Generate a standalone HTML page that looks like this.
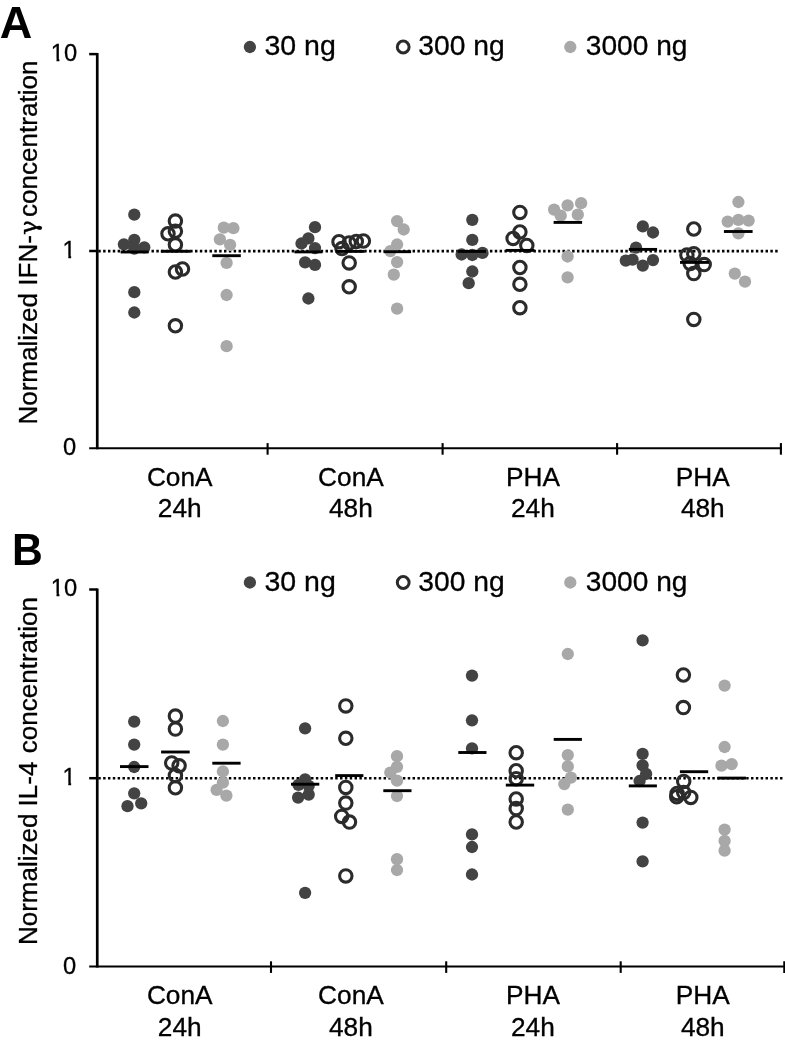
<!DOCTYPE html>
<html lang="en">
<head>
<meta charset="utf-8">
<title>Figure</title>
<style>
html,body{margin:0;padding:0;background:#fff;}
body{width:785px;height:1042px;overflow:hidden;}
svg{display:block;}
svg text{font-family:"Liberation Sans",sans-serif;fill:#000;stroke:#000;stroke-width:0.3px;}
</style>
</head>
<body>
<svg width="785" height="1042" viewBox="0 0 785 1042">
<defs>
<clipPath id="nofoot" clipPathUnits="userSpaceOnUse">
<rect x="-4" y="-30" width="40" height="27.5"/>
<rect x="5.7" y="-3" width="2.8" height="5"/>
<rect x="13.4" y="-30" width="20" height="40"/>
</clipPath>
</defs>
<rect width="785" height="1042" fill="#fff"/>
<g id="panelA">
<line x1="98.3" y1="251.1" x2="779.4" y2="251.1" stroke="#000" stroke-width="2.6" stroke-dasharray="2.45 2.385"/>
<circle cx="223.8" cy="227.7" r="6.15" fill="#a8a8a8"/>
<circle cx="233.4" cy="228.2" r="6.15" fill="#a8a8a8"/>
<circle cx="219.9" cy="239.4" r="6.15" fill="#a8a8a8"/>
<circle cx="230.1" cy="244.8" r="6.15" fill="#a8a8a8"/>
<circle cx="226.6" cy="262.9" r="6.15" fill="#a8a8a8"/>
<circle cx="226.6" cy="295.0" r="6.15" fill="#a8a8a8"/>
<circle cx="226.6" cy="346.2" r="6.15" fill="#a8a8a8"/>
<circle cx="397.1" cy="221.1" r="6.15" fill="#a8a8a8"/>
<circle cx="403.7" cy="229.5" r="6.15" fill="#a8a8a8"/>
<circle cx="397.1" cy="244.5" r="6.15" fill="#a8a8a8"/>
<circle cx="390.4" cy="251.1" r="6.15" fill="#a8a8a8"/>
<circle cx="397.1" cy="262.1" r="6.15" fill="#a8a8a8"/>
<circle cx="393.8" cy="274.6" r="6.15" fill="#a8a8a8"/>
<circle cx="397.1" cy="308.7" r="6.15" fill="#a8a8a8"/>
<circle cx="554.1" cy="209.6" r="6.15" fill="#a8a8a8"/>
<circle cx="567.6" cy="205.3" r="6.15" fill="#a8a8a8"/>
<circle cx="581.1" cy="203.2" r="6.15" fill="#a8a8a8"/>
<circle cx="560.7" cy="215.7" r="6.15" fill="#a8a8a8"/>
<circle cx="577.8" cy="214.7" r="6.15" fill="#a8a8a8"/>
<circle cx="567.6" cy="256.5" r="6.15" fill="#a8a8a8"/>
<circle cx="567.6" cy="277.4" r="6.15" fill="#a8a8a8"/>
<circle cx="738.4" cy="202.0" r="6.15" fill="#a8a8a8"/>
<circle cx="727.7" cy="221.6" r="6.15" fill="#a8a8a8"/>
<circle cx="738.4" cy="219.8" r="6.15" fill="#a8a8a8"/>
<circle cx="748.6" cy="220.6" r="6.15" fill="#a8a8a8"/>
<circle cx="738.4" cy="233.3" r="6.15" fill="#a8a8a8"/>
<circle cx="734.8" cy="273.6" r="6.15" fill="#a8a8a8"/>
<circle cx="745.0" cy="281.7" r="6.15" fill="#a8a8a8"/>
<circle cx="134.3" cy="214.7" r="6.15" fill="#434343"/>
<circle cx="134.3" cy="239.8" r="6.15" fill="#434343"/>
<circle cx="123.9" cy="244.3" r="6.15" fill="#434343"/>
<circle cx="144.3" cy="247.3" r="6.15" fill="#434343"/>
<circle cx="134.3" cy="248.6" r="6.15" fill="#434343"/>
<circle cx="134.3" cy="292.2" r="6.15" fill="#434343"/>
<circle cx="134.3" cy="312.5" r="6.15" fill="#434343"/>
<circle cx="315.0" cy="227.2" r="6.15" fill="#434343"/>
<circle cx="308.4" cy="238.4" r="6.15" fill="#434343"/>
<circle cx="301.5" cy="243.5" r="6.15" fill="#434343"/>
<circle cx="315.0" cy="248.1" r="6.15" fill="#434343"/>
<circle cx="305.1" cy="262.4" r="6.15" fill="#434343"/>
<circle cx="315.0" cy="264.9" r="6.15" fill="#434343"/>
<circle cx="308.4" cy="298.5" r="6.15" fill="#434343"/>
<circle cx="472.3" cy="219.8" r="6.15" fill="#434343"/>
<circle cx="472.3" cy="239.9" r="6.15" fill="#434343"/>
<circle cx="461.6" cy="254.5" r="6.15" fill="#434343"/>
<circle cx="472.3" cy="255.0" r="6.15" fill="#434343"/>
<circle cx="482.5" cy="252.9" r="6.15" fill="#434343"/>
<circle cx="472.3" cy="271.5" r="6.15" fill="#434343"/>
<circle cx="468.7" cy="283.2" r="6.15" fill="#434343"/>
<circle cx="642.8" cy="226.4" r="6.15" fill="#434343"/>
<circle cx="653.0" cy="232.5" r="6.15" fill="#434343"/>
<circle cx="636.0" cy="247.6" r="6.15" fill="#434343"/>
<circle cx="625.8" cy="260.6" r="6.15" fill="#434343"/>
<circle cx="632.6" cy="259.6" r="6.15" fill="#434343"/>
<circle cx="642.8" cy="265.7" r="6.15" fill="#434343"/>
<circle cx="653.0" cy="260.1" r="6.15" fill="#434343"/>
<circle cx="175.4" cy="221.1" r="6.2" fill="none" stroke="#2b2b2b" stroke-width="3.1"/>
<circle cx="175.4" cy="231.3" r="6.2" fill="none" stroke="#2b2b2b" stroke-width="3.1"/>
<circle cx="168.0" cy="233.8" r="6.2" fill="none" stroke="#2b2b2b" stroke-width="3.1"/>
<circle cx="175.4" cy="244.8" r="6.2" fill="none" stroke="#2b2b2b" stroke-width="3.1"/>
<circle cx="182.5" cy="269.0" r="6.2" fill="none" stroke="#2b2b2b" stroke-width="3.1"/>
<circle cx="175.4" cy="272.0" r="6.2" fill="none" stroke="#2b2b2b" stroke-width="3.1"/>
<circle cx="175.4" cy="325.8" r="6.2" fill="none" stroke="#2b2b2b" stroke-width="3.1"/>
<circle cx="339.0" cy="241.7" r="6.2" fill="none" stroke="#2b2b2b" stroke-width="3.1"/>
<circle cx="342.0" cy="248.6" r="6.2" fill="none" stroke="#2b2b2b" stroke-width="3.1"/>
<circle cx="349.2" cy="243.0" r="6.2" fill="none" stroke="#2b2b2b" stroke-width="3.1"/>
<circle cx="356.3" cy="241.5" r="6.2" fill="none" stroke="#2b2b2b" stroke-width="3.1"/>
<circle cx="363.4" cy="241.0" r="6.2" fill="none" stroke="#2b2b2b" stroke-width="3.1"/>
<circle cx="349.2" cy="262.9" r="6.2" fill="none" stroke="#2b2b2b" stroke-width="3.1"/>
<circle cx="349.2" cy="286.8" r="6.2" fill="none" stroke="#2b2b2b" stroke-width="3.1"/>
<circle cx="519.9" cy="212.4" r="6.2" fill="none" stroke="#2b2b2b" stroke-width="3.1"/>
<circle cx="519.9" cy="232.0" r="6.2" fill="none" stroke="#2b2b2b" stroke-width="3.1"/>
<circle cx="513.1" cy="238.4" r="6.2" fill="none" stroke="#2b2b2b" stroke-width="3.1"/>
<circle cx="526.8" cy="245.5" r="6.2" fill="none" stroke="#2b2b2b" stroke-width="3.1"/>
<circle cx="519.9" cy="267.5" r="6.2" fill="none" stroke="#2b2b2b" stroke-width="3.1"/>
<circle cx="519.9" cy="284.3" r="6.2" fill="none" stroke="#2b2b2b" stroke-width="3.1"/>
<circle cx="519.9" cy="307.7" r="6.2" fill="none" stroke="#2b2b2b" stroke-width="3.1"/>
<circle cx="693.8" cy="229.0" r="6.2" fill="none" stroke="#2b2b2b" stroke-width="3.1"/>
<circle cx="686.9" cy="255.0" r="6.2" fill="none" stroke="#2b2b2b" stroke-width="3.1"/>
<circle cx="693.8" cy="253.7" r="6.2" fill="none" stroke="#2b2b2b" stroke-width="3.1"/>
<circle cx="690.2" cy="263.4" r="6.2" fill="none" stroke="#2b2b2b" stroke-width="3.1"/>
<circle cx="704.2" cy="264.6" r="6.2" fill="none" stroke="#2b2b2b" stroke-width="3.1"/>
<circle cx="693.8" cy="273.6" r="6.2" fill="none" stroke="#2b2b2b" stroke-width="3.1"/>
<circle cx="693.8" cy="319.4" r="6.2" fill="none" stroke="#2b2b2b" stroke-width="3.1"/>
<line x1="120.6" y1="252.0" x2="148.6" y2="252.0" stroke="#000" stroke-width="2.9"/>
<line x1="160.8" y1="251.3" x2="190.6" y2="251.3" stroke="#000" stroke-width="2.9"/>
<line x1="212.3" y1="255.7" x2="240.8" y2="255.7" stroke="#000" stroke-width="2.9"/>
<line x1="294.4" y1="251.9" x2="322.4" y2="251.9" stroke="#000" stroke-width="2.9"/>
<line x1="335.7" y1="251.4" x2="364.5" y2="251.4" stroke="#000" stroke-width="2.9"/>
<line x1="383.6" y1="251.7" x2="411.1" y2="251.7" stroke="#000" stroke-width="2.9"/>
<line x1="457.5" y1="251.4" x2="486.0" y2="251.4" stroke="#000" stroke-width="2.9"/>
<line x1="505.7" y1="250.4" x2="534.5" y2="250.4" stroke="#000" stroke-width="2.9"/>
<line x1="553.6" y1="222.4" x2="582.1" y2="222.4" stroke="#000" stroke-width="2.9"/>
<line x1="628.8" y1="249.4" x2="657.1" y2="249.4" stroke="#000" stroke-width="2.9"/>
<line x1="680.0" y1="262.4" x2="709.0" y2="262.4" stroke="#000" stroke-width="2.9"/>
<line x1="723.9" y1="231.5" x2="752.6" y2="231.5" stroke="#000" stroke-width="2.9"/>
<line x1="97.25" y1="53.0" x2="97.25" y2="449.3" stroke="#000" stroke-width="2.7"/>
<line x1="89.2" y1="448.3" x2="781.9" y2="448.3" stroke="#000" stroke-width="2.1"/>
<line x1="89.2" y1="54.1" x2="97.25" y2="54.1" stroke="#000" stroke-width="2.5"/>
<line x1="89.2" y1="251.0" x2="97.25" y2="251.0" stroke="#000" stroke-width="2.5"/>
<line x1="267.6" y1="443.1" x2="267.6" y2="454.7" stroke="#000" stroke-width="2.1"/>
<line x1="442.6" y1="443.1" x2="442.6" y2="454.7" stroke="#000" stroke-width="2.1"/>
<line x1="617.1" y1="443.1" x2="617.1" y2="454.7" stroke="#000" stroke-width="2.1"/>
<line x1="780.9" y1="443.1" x2="780.9" y2="454.7" stroke="#000" stroke-width="2.1"/>
<text font-size="23.7" clip-path="url(#nofoot)" transform="translate(50.84 61.20)">10</text>
<text font-size="23.7" clip-path="url(#nofoot)" transform="translate(62.62 258.10)">1</text>
<text font-size="23.7" transform="translate(63.02 455.40)">0</text>
<text font-size="26.2" transform="translate(36.9 0) rotate(-90) scale(0.9946 1)"><tspan x="-426.91" text-anchor="start">Normalized IFN-</tspan><tspan x="-236.18" text-anchor="start" style="font-family:&quot;DejaVu Serif&quot;,serif;font-size:25px">γ</tspan><tspan x="-60.93" text-anchor="end"> concentration</tspan></text>
<circle cx="249.9" cy="47.0" r="6.15" fill="#434343"/>
<text x="0" y="0" font-size="27.3" transform="translate(264.45 55.4) scale(1.045 1)">30 ng</text>
<circle cx="403.2" cy="47.0" r="5.9" fill="none" stroke="#2b2b2b" stroke-width="3.0"/>
<text x="0" y="0" font-size="27.3" transform="translate(418.3 55.4) scale(1.035 1)">300 ng</text>
<circle cx="570.3" cy="47.0" r="6.15" fill="#a8a8a8"/>
<text x="0" y="0" font-size="27.3" transform="translate(585.8 55.4) scale(1.03 1)">3000 ng</text>
<text font-size="25" text-anchor="middle" transform="translate(179.7 485.6) scale(1.05 1)">ConA</text>
<text font-size="25" text-anchor="middle" transform="translate(179.7 517.2) scale(1.05 1)">24h</text>
<text font-size="25" text-anchor="middle" transform="translate(350.9 485.6) scale(1.05 1)">ConA</text>
<text font-size="25" text-anchor="middle" transform="translate(350.9 517.2) scale(1.05 1)">48h</text>
<text font-size="25" text-anchor="middle" transform="translate(532.9 485.6) scale(1.05 1)">PHA</text>
<text font-size="25" text-anchor="middle" transform="translate(532.9 517.2) scale(1.05 1)">24h</text>
<text font-size="25" text-anchor="middle" transform="translate(702.8 485.6) scale(1.05 1)">PHA</text>
<text font-size="25" text-anchor="middle" transform="translate(702.8 517.2) scale(1.05 1)">48h</text>
<text font-size="44.6" font-weight="bold" style="stroke:none" transform="translate(-0.2 37.7) scale(1.01 1)">A</text>
</g>
<g id="panelB">
<line x1="98.3" y1="778.3000000000001" x2="782.5" y2="778.3000000000001" stroke="#000" stroke-width="2.6" stroke-dasharray="2.45 2.385"/>
<circle cx="222.9" cy="721.0" r="6.15" fill="#a8a8a8"/>
<circle cx="222.9" cy="744.6" r="6.15" fill="#a8a8a8"/>
<circle cx="222.9" cy="771.5" r="6.15" fill="#a8a8a8"/>
<circle cx="222.9" cy="782.7" r="6.15" fill="#a8a8a8"/>
<circle cx="216.6" cy="789.9" r="6.15" fill="#a8a8a8"/>
<circle cx="226.4" cy="795.6" r="6.15" fill="#a8a8a8"/>
<circle cx="397.0" cy="756.2" r="6.15" fill="#a8a8a8"/>
<circle cx="397.0" cy="766.8" r="6.15" fill="#a8a8a8"/>
<circle cx="390.3" cy="772.6" r="6.15" fill="#a8a8a8"/>
<circle cx="397.0" cy="780.7" r="6.15" fill="#a8a8a8"/>
<circle cx="397.0" cy="796.0" r="6.15" fill="#a8a8a8"/>
<circle cx="397.0" cy="859.2" r="6.15" fill="#a8a8a8"/>
<circle cx="397.0" cy="870.0" r="6.15" fill="#a8a8a8"/>
<circle cx="567.8" cy="654.0" r="6.15" fill="#a8a8a8"/>
<circle cx="567.8" cy="755.1" r="6.15" fill="#a8a8a8"/>
<circle cx="567.8" cy="766.4" r="6.15" fill="#a8a8a8"/>
<circle cx="570.9" cy="777.6" r="6.15" fill="#a8a8a8"/>
<circle cx="564.3" cy="784.1" r="6.15" fill="#a8a8a8"/>
<circle cx="567.8" cy="809.6" r="6.15" fill="#a8a8a8"/>
<circle cx="724.6" cy="685.6" r="6.15" fill="#a8a8a8"/>
<circle cx="724.6" cy="747.0" r="6.15" fill="#a8a8a8"/>
<circle cx="721.5" cy="765.7" r="6.15" fill="#a8a8a8"/>
<circle cx="731.7" cy="764.1" r="6.15" fill="#a8a8a8"/>
<circle cx="724.6" cy="829.7" r="6.15" fill="#a8a8a8"/>
<circle cx="724.6" cy="840.9" r="6.15" fill="#a8a8a8"/>
<circle cx="724.6" cy="850.7" r="6.15" fill="#a8a8a8"/>
<circle cx="134.2" cy="721.6" r="6.15" fill="#434343"/>
<circle cx="134.2" cy="744.6" r="6.15" fill="#434343"/>
<circle cx="134.2" cy="767.0" r="6.15" fill="#434343"/>
<circle cx="134.2" cy="793.3" r="6.15" fill="#434343"/>
<circle cx="141.2" cy="803.3" r="6.15" fill="#434343"/>
<circle cx="127.5" cy="806.2" r="6.15" fill="#434343"/>
<circle cx="305.1" cy="728.3" r="6.15" fill="#434343"/>
<circle cx="305.1" cy="779.3" r="6.15" fill="#434343"/>
<circle cx="298.5" cy="784.8" r="6.15" fill="#434343"/>
<circle cx="308.7" cy="785.8" r="6.15" fill="#434343"/>
<circle cx="308.7" cy="794.6" r="6.15" fill="#434343"/>
<circle cx="298.1" cy="797.6" r="6.15" fill="#434343"/>
<circle cx="305.1" cy="892.8" r="6.15" fill="#434343"/>
<circle cx="472.0" cy="675.6" r="6.15" fill="#434343"/>
<circle cx="472.0" cy="720.3" r="6.15" fill="#434343"/>
<circle cx="472.0" cy="748.4" r="6.15" fill="#434343"/>
<circle cx="472.0" cy="834.4" r="6.15" fill="#434343"/>
<circle cx="472.0" cy="847.0" r="6.15" fill="#434343"/>
<circle cx="472.0" cy="874.5" r="6.15" fill="#434343"/>
<circle cx="642.6" cy="640.4" r="6.15" fill="#434343"/>
<circle cx="642.6" cy="753.9" r="6.15" fill="#434343"/>
<circle cx="642.6" cy="765.3" r="6.15" fill="#434343"/>
<circle cx="646.1" cy="773.9" r="6.15" fill="#434343"/>
<circle cx="639.6" cy="781.0" r="6.15" fill="#434343"/>
<circle cx="642.6" cy="822.6" r="6.15" fill="#434343"/>
<circle cx="642.6" cy="861.3" r="6.15" fill="#434343"/>
<circle cx="175.4" cy="716.1" r="6.2" fill="none" stroke="#2b2b2b" stroke-width="3.1"/>
<circle cx="175.4" cy="729.1" r="6.2" fill="none" stroke="#2b2b2b" stroke-width="3.1"/>
<circle cx="171.7" cy="763.0" r="6.2" fill="none" stroke="#2b2b2b" stroke-width="3.1"/>
<circle cx="179.1" cy="765.8" r="6.2" fill="none" stroke="#2b2b2b" stroke-width="3.1"/>
<circle cx="175.4" cy="775.6" r="6.2" fill="none" stroke="#2b2b2b" stroke-width="3.1"/>
<circle cx="175.4" cy="787.8" r="6.2" fill="none" stroke="#2b2b2b" stroke-width="3.1"/>
<circle cx="345.8" cy="705.9" r="6.2" fill="none" stroke="#2b2b2b" stroke-width="3.1"/>
<circle cx="345.8" cy="738.3" r="6.2" fill="none" stroke="#2b2b2b" stroke-width="3.1"/>
<circle cx="345.8" cy="787.4" r="6.2" fill="none" stroke="#2b2b2b" stroke-width="3.1"/>
<circle cx="345.8" cy="803.1" r="6.2" fill="none" stroke="#2b2b2b" stroke-width="3.1"/>
<circle cx="341.7" cy="816.4" r="6.2" fill="none" stroke="#2b2b2b" stroke-width="3.1"/>
<circle cx="349.5" cy="822.1" r="6.2" fill="none" stroke="#2b2b2b" stroke-width="3.1"/>
<circle cx="345.8" cy="875.9" r="6.2" fill="none" stroke="#2b2b2b" stroke-width="3.1"/>
<circle cx="516.2" cy="752.7" r="6.2" fill="none" stroke="#2b2b2b" stroke-width="3.1"/>
<circle cx="516.2" cy="770.7" r="6.2" fill="none" stroke="#2b2b2b" stroke-width="3.1"/>
<circle cx="516.2" cy="778.7" r="6.2" fill="none" stroke="#2b2b2b" stroke-width="3.1"/>
<circle cx="516.2" cy="799.0" r="6.2" fill="none" stroke="#2b2b2b" stroke-width="3.1"/>
<circle cx="516.2" cy="808.6" r="6.2" fill="none" stroke="#2b2b2b" stroke-width="3.1"/>
<circle cx="516.2" cy="822.0" r="6.2" fill="none" stroke="#2b2b2b" stroke-width="3.1"/>
<circle cx="683.4" cy="675.0" r="6.2" fill="none" stroke="#2b2b2b" stroke-width="3.1"/>
<circle cx="683.4" cy="707.6" r="6.2" fill="none" stroke="#2b2b2b" stroke-width="3.1"/>
<circle cx="683.7" cy="781.4" r="6.2" fill="none" stroke="#2b2b2b" stroke-width="3.1"/>
<circle cx="677.1" cy="793.5" r="6.2" fill="none" stroke="#2b2b2b" stroke-width="3.1"/>
<circle cx="676.7" cy="796.7" r="6.2" fill="none" stroke="#2b2b2b" stroke-width="3.1"/>
<circle cx="683.7" cy="792.6" r="6.2" fill="none" stroke="#2b2b2b" stroke-width="3.1"/>
<circle cx="690.8" cy="797.4" r="6.2" fill="none" stroke="#2b2b2b" stroke-width="3.1"/>
<line x1="120.0" y1="766.6" x2="148.5" y2="766.6" stroke="#000" stroke-width="2.9"/>
<line x1="161.1" y1="752.0" x2="189.7" y2="752.0" stroke="#000" stroke-width="2.9"/>
<line x1="212.3" y1="763.2" x2="240.6" y2="763.2" stroke="#000" stroke-width="2.9"/>
<line x1="291.0" y1="784.2" x2="319.3" y2="784.2" stroke="#000" stroke-width="2.9"/>
<line x1="335.2" y1="775.6" x2="363.4" y2="775.6" stroke="#000" stroke-width="2.9"/>
<line x1="383.3" y1="790.7" x2="411.5" y2="790.7" stroke="#000" stroke-width="2.9"/>
<line x1="458.3" y1="752.5" x2="486.5" y2="752.5" stroke="#000" stroke-width="2.9"/>
<line x1="505.8" y1="785.1" x2="534.2" y2="785.1" stroke="#000" stroke-width="2.9"/>
<line x1="553.7" y1="739.4" x2="581.9" y2="739.4" stroke="#000" stroke-width="2.9"/>
<line x1="628.8" y1="785.9" x2="656.9" y2="785.9" stroke="#000" stroke-width="2.9"/>
<line x1="679.9" y1="771.7" x2="708.2" y2="771.7" stroke="#000" stroke-width="2.9"/>
<line x1="717.6" y1="778.1" x2="746.0" y2="778.1" stroke="#000" stroke-width="2.9"/>
<line x1="97.25" y1="588.4" x2="97.25" y2="967.5" stroke="#000" stroke-width="2.7"/>
<line x1="89.2" y1="966.5" x2="785.0" y2="966.5" stroke="#000" stroke-width="2.1"/>
<line x1="89.2" y1="589.5" x2="97.25" y2="589.5" stroke="#000" stroke-width="2.5"/>
<line x1="89.2" y1="778.2" x2="97.25" y2="778.2" stroke="#000" stroke-width="2.5"/>
<line x1="271.0" y1="961.3" x2="271.0" y2="972.9" stroke="#000" stroke-width="2.1"/>
<line x1="446.2" y1="961.3" x2="446.2" y2="972.9" stroke="#000" stroke-width="2.1"/>
<line x1="620.7" y1="961.3" x2="620.7" y2="972.9" stroke="#000" stroke-width="2.1"/>
<line x1="784.3" y1="961.3" x2="784.3" y2="972.9" stroke="#000" stroke-width="2.1"/>
<text font-size="23.7" clip-path="url(#nofoot)" transform="translate(50.84 596.00)">10</text>
<text font-size="23.7" clip-path="url(#nofoot)" transform="translate(62.62 785.30)">1</text>
<text font-size="23.7" transform="translate(63.02 973.60)">0</text>
<text font-size="26.2" transform="translate(36.9 0) rotate(-90) scale(0.9931 1)"><tspan x="-951.67" text-anchor="start">Normalized IL-4</tspan><tspan x="-601.15" text-anchor="end"> concentration</tspan></text>
<circle cx="249.9" cy="582.5" r="6.15" fill="#434343"/>
<text x="0" y="0" font-size="27.3" transform="translate(264.45 590.9) scale(1.045 1)">30 ng</text>
<circle cx="403.2" cy="582.5" r="5.9" fill="none" stroke="#2b2b2b" stroke-width="3.0"/>
<text x="0" y="0" font-size="27.3" transform="translate(418.3 590.9) scale(1.035 1)">300 ng</text>
<circle cx="570.3" cy="582.5" r="6.15" fill="#a8a8a8"/>
<text x="0" y="0" font-size="27.3" transform="translate(585.8 590.9) scale(1.03 1)">3000 ng</text>
<text font-size="25" text-anchor="middle" transform="translate(179.7 1004.3) scale(1.05 1)">ConA</text>
<text font-size="25" text-anchor="middle" transform="translate(179.7 1036.0) scale(1.05 1)">24h</text>
<text font-size="25" text-anchor="middle" transform="translate(350.9 1004.3) scale(1.05 1)">ConA</text>
<text font-size="25" text-anchor="middle" transform="translate(350.9 1036.0) scale(1.05 1)">48h</text>
<text font-size="25" text-anchor="middle" transform="translate(532.9 1004.3) scale(1.05 1)">PHA</text>
<text font-size="25" text-anchor="middle" transform="translate(532.9 1036.0) scale(1.05 1)">24h</text>
<text font-size="25" text-anchor="middle" transform="translate(702.8 1004.3) scale(1.05 1)">PHA</text>
<text font-size="25" text-anchor="middle" transform="translate(702.8 1036.0) scale(1.05 1)">48h</text>
<text font-size="44.6" font-weight="bold" style="stroke:none" transform="translate(12.0 564.7) scale(0.955 1)">B</text>
</g>
</svg>
</body>
</html>
